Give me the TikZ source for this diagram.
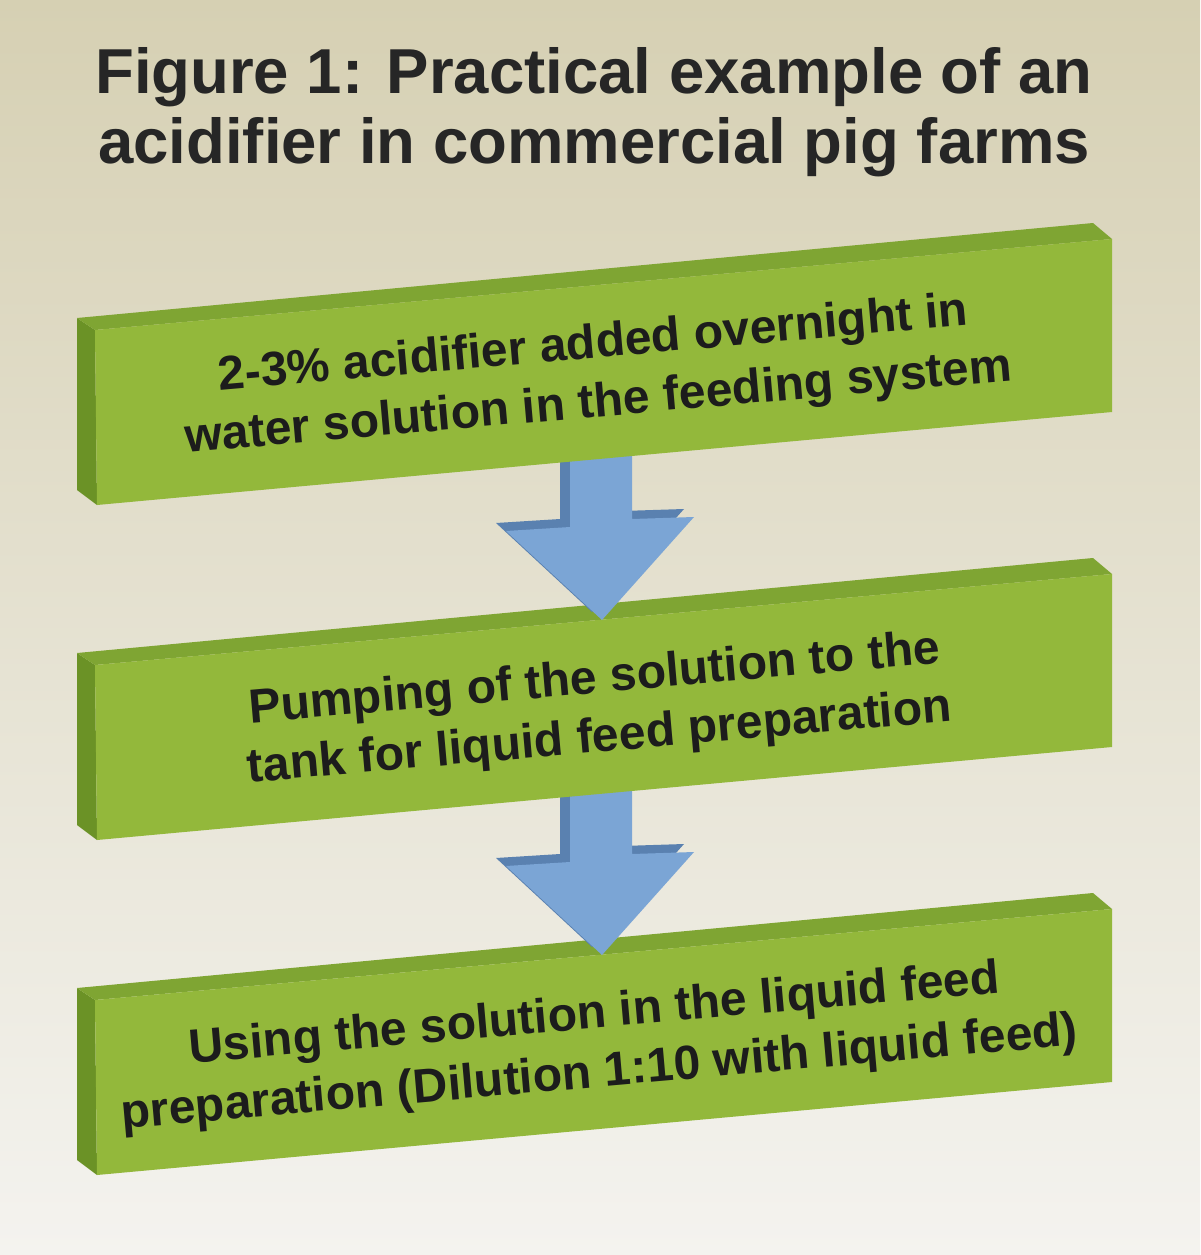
\documentclass[tikz,border=0pt]{standalone}
\usepackage{fontspec}
\setmainfont{Liberation Sans}
\definecolor{bgtop}{HTML}{D6D0B3}
\definecolor{bgmid}{HTML}{E6E2D3}
\definecolor{bgbot}{HTML}{F4F3EF}
\definecolor{gfront}{HTML}{93B83B}
\definecolor{gtop}{HTML}{7FA533}
\definecolor{gleft}{HTML}{6B9226}
\definecolor{afront}{HTML}{7BA5D5}
\definecolor{aside}{HTML}{5A81B0}
\definecolor{txtcol}{HTML}{1C1C1C}
\definecolor{titlecol}{HTML}{262626}
\newcommand\greenslab[1]{%
  \begin{scope}[shift={(0,#1)}]
    \fill[slableft]  (77,318) -- (95,330) -- (97,505) -- (77,490) -- cycle;
    \fill[slabtop]   (77,318) -- (1093,223) -- (1112,239) -- (95,330) -- cycle;
    \fill[slabfront] (95,330) -- (1112,239) -- (1112,412) -- (97,505) -- cycle;
  \end{scope}}
\newcommand\bluearrow[1]{%
  \begin{scope}[shift={(0,#1)}]
    \fill[arrowside] (560,432) -- (622,432) -- (622,511) -- (684,509) -- (592,612) -- (496,523) -- (560,519) -- cycle;
    \fill[arrowfront] (570,440) -- (632,440) -- (632,519) -- (694,517) -- (602,620) -- (506,531) -- (570,527) -- cycle;
  \end{scope}}
\begin{document}
\begin{tikzpicture}[x=1pt,y=-1pt,
  slabfront/.style={fill=gfront},
  slabtop/.style={fill=gtop},
  slableft/.style={fill=gleft},
  arrowfront/.style={fill=afront},
  arrowside/.style={fill=aside},
  steptext/.style={font=\fontsize{48}{59}\selectfont\bfseries, align=center,
    rotate=5, text=txtcol, inner sep=0pt},
  titletext/.style={font=\fontsize{63.5}{70}\selectfont\bfseries, align=center,
    text=titlecol, inner sep=0pt}]
\useasboundingbox (0,0) rectangle (1200,1255);
\shade[top color=bgtop, middle color=bgmid, bottom color=bgbot] (0,0) rectangle (1200,1255);

\node[titletext] (title) at (594,112) {Figure 1: Practical example of an\\acidifier in commercial pig farms};

\greenslab{670}
\bluearrow{335}
\greenslab{335}
\bluearrow{0}
\greenslab{0}

\node[steptext] (s1) at (596,375) {2-3\% acidifier added overnight in\\water solution in the feeding system};
\node[steptext] (s2) at (597,710) {Pumping of the solution to the\\tank for liquid feed preparation};
\node[steptext] (s3) at (597,1045) {Using the solution in the liquid feed\\preparation (Dilution 1:10 with liquid feed)};
\end{tikzpicture}
\end{document}
